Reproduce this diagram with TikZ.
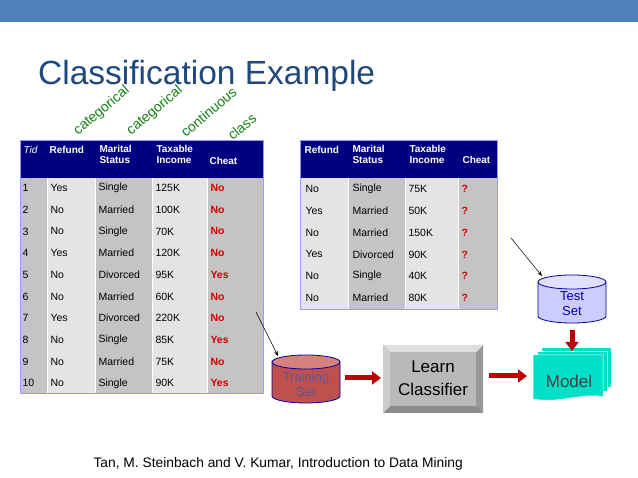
\documentclass[tikz,border=0pt]{standalone}
\usepackage{fontspec}
\setmainfont{Liberation Sans}
\usetikzlibrary{arrows.meta}
\definecolor{topbar}{RGB}{79,129,189}
\definecolor{titleblue}{RGB}{31,73,125}
\definecolor{navy}{RGB}{0,0,128}
\definecolor{cdark}{RGB}{196,196,196}
\definecolor{clight}{RGB}{228,228,228}
\definecolor{catgreen}{RGB}{20,130,20}
\definecolor{nored}{RGB}{210,0,0}
\definecolor{trainred}{RGB}{192,80,77}
\definecolor{traintop}{RGB}{214,130,128}
\definecolor{traintext}{RGB}{90,90,150}
\definecolor{testblue}{RGB}{204,204,255}
\definecolor{testtop}{RGB}{225,225,255}
\definecolor{modelcyan}{RGB}{0,224,200}
\tikzset{
 hdr/.style={font=\bfseries\fontsize{10}{11}\selectfont,text=white,align=left,anchor=west},
 cell/.style={font=\fontsize{10.5}{12}\selectfont,anchor=west},
 redc/.style={font=\bfseries\fontsize{10.5}{12}\selectfont,text=nored,anchor=west},
 catl/.style={font=\fontsize{14}{15}\selectfont,text=catgreen,rotate=40,anchor=south west,inner sep=0},
 bigarrow/.style={-{Triangle[length=9pt,width=13pt]},line width=5pt,draw=nored!90!black},
 thin/.style={-{Stealth[length=5pt]},black,line width=0.5pt},
 cyledge/.style={draw=blue!60!black,line width=0.8pt}
}
\begin{document}
\begin{tikzpicture}[x=1pt,y=-1pt]
\useasboundingbox (0,0) rectangle (638,478);
\fill[white] (0,0) rectangle (638,478);
\fill[topbar] (0,0) rectangle (638,22);
\node[anchor=base west,text=titleblue,font=\fontsize{33.5}{36}\selectfont,inner sep=0] (title) at (38,85) {Classification Example};
% left table
\fill[navy] (20,140) rectangle (263,178);
\foreach \a/\b/\c in {20/47/cdark,47/95/clight,95/152/cdark,152/207/clight,207/263/cdark}
  \fill[\c] (\a,178) rectangle (\b,393);
\foreach \x in {47,95,152,207} \draw[white,line width=1pt] (\x,178)--(\x,393);
\draw[blue!40,line width=0.6pt] (20,140) rectangle (263,393);
\node[hdr,font=\itshape\fontsize{10}{11}\selectfont] (h0) at (20,150) {Tid};
\node[hdr] (h1) at (46,150) {Refund};
\node[hdr,anchor=north west] (h2) at (96,142) {Marital\\Status};
\node[hdr,anchor=north west] (h3) at (153,142) {Taxable\\Income};
\node[hdr] (h4) at (206,161) {Cheat};
\foreach \i/\r/\m/\t/\c [count=\k] in {1/Yes/Single/125K/No,2/No/Married/100K/No,3/No/Single/70K/No,4/Yes/Married/120K/No,5/No/Divorced/95K/Yes,6/No/Married/60K/No,7/Yes/Divorced/220K/No,8/No/Single/85K/Yes,9/No/Married/75K/No,10/No/Single/90K/Yes}{
  \pgfmathsetmacro\yy{188+(\k-1)*21.7}
  \node[cell] (l\k a) at (19,\yy) {\i};
  \node[cell] (l\k b) at (47,\yy) {\r};
  \node[cell] (l\k c) at (95,\yy) {\m};
  \node[cell] (l\k d) at (152,\yy) {\t};
  \node[redc] (l\k e) at (207,\yy) {\c};
}
\node[catl] (g1) at (80,138) {categorical};
\node[catl] (g2) at (133,138) {categorical};
\node[catl] (g3) at (186,138) {continuous};
\node[catl] (g4) at (233,141) {class};
% right table
\fill[navy] (300,140) rectangle (497,178);
\foreach \a/\b/\c in {300/348/clight,348/405/cdark,405/458/clight,458/497/cdark}
  \fill[\c] (\a,178) rectangle (\b,309);
\foreach \x in {348,405,458} \draw[white,line width=1pt] (\x,178)--(\x,309);
\draw[blue!40,line width=0.6pt] (300,140) rectangle (497,309);
\node[hdr] (r1) at (301,150) {Refund};
\node[hdr,anchor=north west] (r2) at (349,142) {Marital\\Status};
\node[hdr,anchor=north west] (r3) at (406,142) {Taxable\\Income};
\node[hdr] (r4) at (459,160) {Cheat};
\foreach \r/\m/\t [count=\k] in {No/Single/75K,Yes/Married/50K,No/Married/150K,Yes/Divorced/90K,No/Single/40K,No/Married/80K}{
  \pgfmathsetmacro\yy{189+(\k-1)*21.8}
  \node[cell] (r\k a) at (302,\yy) {\r};
  \node[cell] (r\k b) at (349,\yy) {\m};
  \node[cell] (r\k c) at (405,\yy) {\t};
  \node[redc] (r\k d) at (458,\yy) {?};
}
% cylinders
\foreach \cx/\ty/\bd/\tp in {306/362/trainred/traintop,572/282/testblue/testtop}{
  \filldraw[cyledge,fill=\bd] (\cx-34,\ty) -- (\cx-34,\ty+34) arc[start angle=180,end angle=0,x radius=34,y radius=7] -- (\cx+34,\ty) -- cycle;
  \filldraw[cyledge,fill=\tp] (\cx,\ty) ellipse[x radius=34,y radius=7];
}
\node[font=\fontsize{13}{15}\selectfont,text=traintext,align=center] (train) at (306,384) {Training\\Set};
\node[font=\fontsize{13}{15}\selectfont,text=blue!70!black,align=center] (test) at (572,304) {Test\\Set};
\coordinate (traintopc) at (278,356);
\coordinate (testtopc) at (542,276);
\coordinate (testbot) at (572,330);
% learn
\fill[gray!55] (383,345) rectangle (483,413);
\fill[gray!80] (483,345)--(483,413)--(476,406)--(476,352)--cycle;
\fill[gray!90] (383,413)--(483,413)--(476,406)--(390,406)--cycle;
\fill[gray!25] (383,345)--(483,345)--(476,352)--(390,352)--cycle;
\fill[gray!40] (383,345)--(390,352)--(390,406)--(383,413)--cycle;
\node[font=\fontsize{17}{23}\selectfont,align=center] (learn) at (433,378) {Learn\\Classifier};
\foreach \d in {8,4}
  \fill[modelcyan,draw=white,line width=0.5pt] (533+\d,355-\d) rectangle (603+\d,395-\d);
\fill[modelcyan,draw=white,line width=0.5pt] (533,355) -- (603,355) -- (603,397) .. controls (585,392) and (560,404) .. (533,399) -- cycle;
\node[font=\fontsize{17}{20}\selectfont,text=black!75] (model) at (569,381) {Model};
\coordinate (modeltop) at (572,351);
\draw[bigarrow] (345,378) -- (381,378);
\draw[bigarrow] (489,376) -- (527,376);
\draw[bigarrow] (testbot) -- (modeltop);
\coordinate (p1) at (256,312);
\coordinate (p2) at (511,238);
\draw[thin] (p1) -- (traintopc);
\draw[thin] (p2) -- (testtopc);
\node[anchor=base west,font=\fontsize{13.8}{15}\selectfont] (cite) at (90,468) {Tan, M. Steinbach and V. Kumar, Introduction to Data Mining};
\end{tikzpicture}
\end{document}
